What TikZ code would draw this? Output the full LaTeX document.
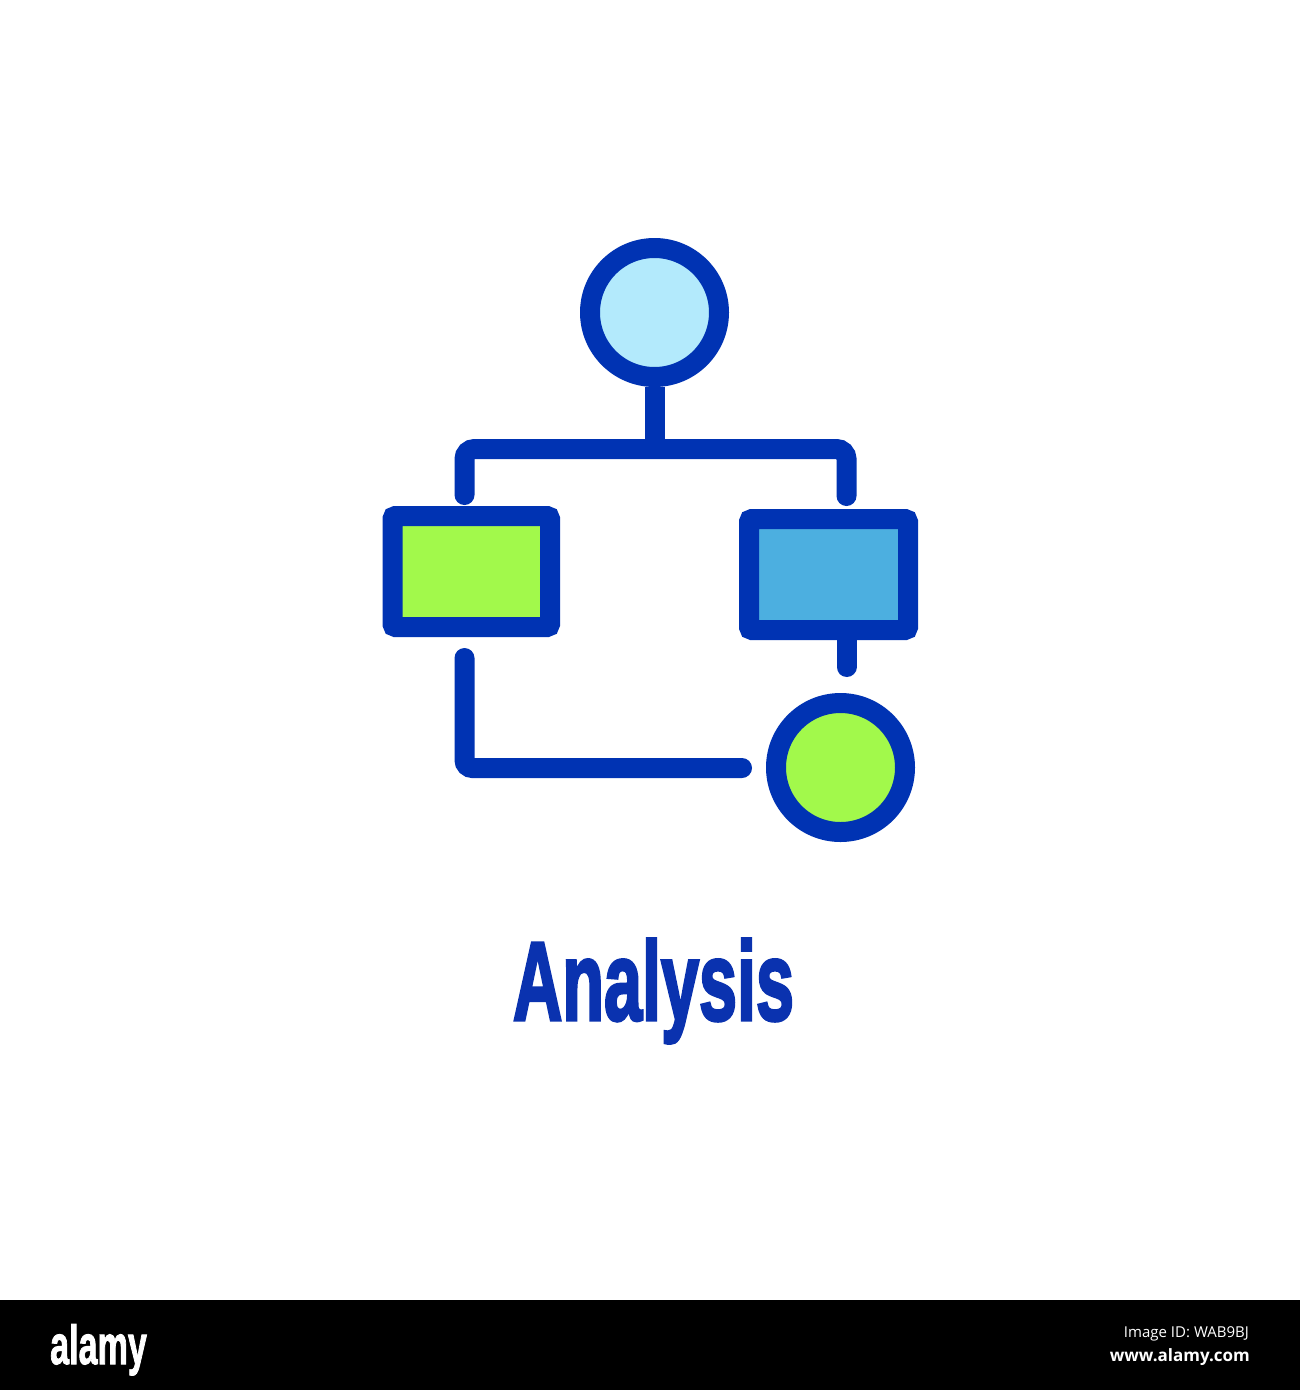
\documentclass[tikz,border=0pt]{standalone}
\usepackage{fontspec}
\usepackage{graphicx}
\setmainfont{Liberation Sans}
\newfontfamily\osans{Open Sans}
\font\titlef="Liberation Sans Bold:embolden=3" at 112pt
\font\alamyf="Liberation Sans Bold:embolden=2" at 55pt
\definecolor{strokeblue}{RGB}{0,51,179}
\definecolor{textblue}{RGB}{10,50,175}
\definecolor{lightblue}{RGB}{179,234,252}
\definecolor{limegreen}{RGB}{162,249,75}
\definecolor{midblue}{RGB}{76,175,224}
\begin{document}
\begin{tikzpicture}[x=1pt,y=-1pt,
  conn/.style={draw=strokeblue,line width=20pt},
  roundnode/.style={circle,draw=strokeblue,line width=20pt,minimum size=129pt,inner sep=0pt},
  boxnode/.style={rectangle,draw=strokeblue,line width=20pt,rounded corners=3pt,inner sep=0pt}]
\useasboundingbox (0,0) rectangle (1300,1390);
\fill[white] (0,0) rectangle (1300,1300);
\fill[black] (0,1300) rectangle (1300,1390);
% connectors' joints
\coordinate (j) at (654.5,449);
\coordinate (jl) at (464.5,449);
\coordinate (jr) at (846.5,449);
\coordinate (lt) at (464.5,495);
\coordinate (rt) at (846.5,496);
\coordinate (lb) at (464.5,658);
\coordinate (lc) at (464.5,768);
\coordinate (le) at (742,768);
\coordinate (rb) at (846.5,667);
% nodes
\node[roundnode,fill=lightblue] (top) at (654.5,312.5) {};
\node[boxnode,fill=limegreen,minimum width=157.5pt,minimum height=111pt] (lbox) at (471.25,571.5) {};
\node[boxnode,fill=midblue,minimum width=159pt,minimum height=111pt] (rbox) at (828.5,574.5) {};
\node[roundnode,fill=limegreen] (bot) at (840.5,767.5) {};
% connectors
\draw[conn] (top.south) -- (j);
\draw[conn,line cap=round,rounded corners=10pt] (lt) -- (jl) -- (jr) -- (rt);
\draw[conn,line cap=round] (rbox.south -| rb) -- (rb);
\draw[conn,line cap=round,rounded corners=8pt] (lb) -- (lc) -- (le);
% title
\node[anchor=base,inner sep=0pt,text=textblue,font=\titlef] (title) at (653.5,1020) {\scalebox{0.61}[1]{Analysis}};
% watermark bar
\node[anchor=base west,inner sep=0pt,text=white,font=\alamyf] (alamy) at (50,1364) {\scalebox{0.62}[1]{alamy}};
\node[anchor=base east,inner sep=0pt,text=white,font=\osans\fontsize{15}{15}\selectfont] (imgid) at (1249,1337) {Image ID: WAB9BJ};
\node[anchor=base east,inner sep=0pt,text=white,font=\osans\fontsize{17}{17}\selectfont\bfseries] (www) at (1250,1361) {www.alamy.com};
\end{tikzpicture}
\end{document}
